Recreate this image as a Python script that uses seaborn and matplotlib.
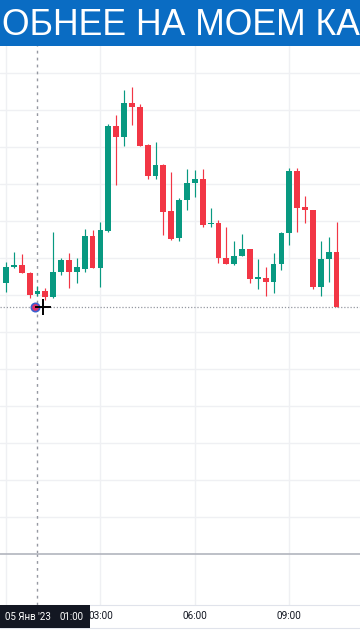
import matplotlib
matplotlib.use("Agg")
import matplotlib.pyplot as plt
from matplotlib.patches import Rectangle
from matplotlib.lines import Line2D
import seaborn as sns
import pandas as pd
import numpy as np

# ---------------- data (15-minute candles, 05 Jan '23) ----------------
opens  = [16813.2, 16817.6, 16818.1, 16815.9, 16810.3, 16811.1, 16809.5, 16816.2, 16819.5, 16816.2,
          16817.0, 16825.9, 16817.3, 16827.3, 16855.7, 16852.7, 16861.9, 16860.8, 16850.5, 16842.2,
          16845.1, 16832.7, 16825.4, 16835.7, 16840.3, 16841.4, 16829.1, 16829.5, 16820.0, 16818.4,
          16820.5, 16822.4, 16814.3, 16814.6, 16813.5, 16818.4, 16826.8, 16843.5, 16833.8, 16833.0,
          16812.2, 16819.7, 16821.6]
highs  = [16818.9, 16821.6, 16821.1, 16816.2, 16812.4, 16811.9, 16827.0, 16820.0, 16821.4, 16820.0,
          16827.8, 16827.6, 16829.7, 16856.2, 16858.6, 16865.4, 16866.2, 16861.6, 16850.8, 16851.4,
          16845.4, 16843.2, 16836.2, 16844.1, 16843.8, 16844.1, 16833.5, 16830.3, 16828.4, 16824.6,
          16826.5, 16822.4, 16819.7, 16817.6, 16821.4, 16827.0, 16844.3, 16844.3, 16836.8, 16833.0,
          16824.6, 16825.7, 16829.7]
lows   = [16810.8, 16817.3, 16815.9, 16809.2, 16809.7, 16808.6, 16809.2, 16815.4, 16811.9, 16813.2,
          16816.2, 16817.3, 16812.2, 16827.0, 16839.7, 16850.3, 16855.9, 16850.3, 16841.4, 16841.4,
          16826.2, 16824.9, 16824.6, 16833.0, 16836.5, 16828.4, 16828.4, 16818.6, 16818.4, 16818.1,
          16820.5, 16813.2, 16811.6, 16809.7, 16810.5, 16816.8, 16823.5, 16827.0, 16829.5, 16811.6,
          16809.7, 16813.5, 16806.8]
closes = [16817.6, 16818.1, 16815.9, 16810.0, 16811.1, 16809.5, 16816.2, 16819.5, 16816.2, 16817.6,
          16825.9, 16817.3, 16827.6, 16855.7, 16852.7, 16861.9, 16860.8, 16850.3, 16842.2, 16845.1,
          16832.4, 16825.1, 16835.7, 16840.3, 16841.4, 16828.9, 16829.5, 16820.0, 16818.4, 16820.5,
          16822.4, 16814.3, 16814.9, 16813.5, 16818.4, 16826.8, 16843.5, 16833.5, 16833.0, 16812.2,
          16819.7, 16821.6, 16806.8]

tick_positions = [12, 24, 36]
tick_labels = ["03:00", "06:00", "09:00"]
day_gridlines = [0, 12, 24, 36]
price_gridlines = [16750, 16760, 16770, 16780, 16790, 16800, 16810, 16820, 16830, 16840, 16850, 16860, 16870, 16880]

banner_text = "ОБНЕЕ НА МОЕМ КА"
tooltip_date = "05 Янв '23"
tooltip_time = "01:00"
crosshair_index = 4
marker_index = 3.7
cursor_index = 4.7

# ---------------- styling ----------------
sns.set_theme(style="white")
plt.rcParams['font.family'] = ['Roboto', 'DejaVu Sans']

GREEN = "#089981"
RED = "#F23645"
GRID = "#eff0f3"

W, H = 360, 640
fig = plt.figure(figsize=(W / 100, H / 100), dpi=100)
fig.patch.set_facecolor("white")

def fy(px):
    return 1 - px / H

# main pane: pixel rows 0..553
ax = fig.add_axes([0, fy(553), 1, 553 / H])
# lower (empty) pane: rows 553..605
ax2 = fig.add_axes([0, fy(605), 1, (605 - 553) / H])

df = pd.DataFrame({"open": opens, "high": highs, "low": lows, "close": closes})
df["idx"] = np.arange(len(df))
df["up"] = df["close"] >= df["open"]
df["color"] = np.where(df["up"], GREEN, RED)

xmin, xmax = -0.762, 44.98
for a in (ax, ax2):
    a.set_xlim(xmin, xmax)
    a.set_facecolor("white")
    for s in a.spines.values():
        s.set_visible(False)
    a.set_yticks([])
    for gx in day_gridlines:
        a.axvline(gx, color=GRID, lw=1.0, zorder=0)
    a.axvline(crosshair_index, color="#9598a1", lw=1.0, ls=(0, (2, 3)), zorder=1)

ax.set_ylim(16740.3, 16889.7)
for gy in price_gridlines:
    ax.axhline(gy, color=GRID, lw=1.0, zorder=0)
ax.set_xticks([])

# wicks
ax.vlines(df["idx"], df["low"], df["high"], colors=df["color"], lw=0.85, zorder=2)
# bodies
body_bottom = np.minimum(df["open"], df["close"])
body_height = np.maximum(np.abs(df["close"] - df["open"]), 0.35)
ax.bar(df["idx"], body_height, bottom=body_bottom, width=0.74, color=df["color"],
       edgecolor=df["color"], linewidth=0, zorder=3)

# current price dotted line
ax.axhline(closes[-1], color="#9598a1", lw=0.9, ls=(0, (1, 1.5)), zorder=1)
# point marker & cursor
ax.plot([marker_index], [closes[-1]], marker="o", ms=6, mfc="#e0306a", mec="#3a5fd0", mew=1.2, zorder=5)
ax.plot([cursor_index], [closes[-1]], marker="+", ms=12, color="black", mew=1.4, zorder=6)

# pane separators
fig.add_artist(Line2D([0, 1], [fy(553.5), fy(553.5)], color="#b2b5be", lw=1.2))
fig.add_artist(Line2D([0, 1], [fy(605), fy(605)], color="#e0e3eb", lw=0.8))
fig.add_artist(Line2D([0, 1], [fy(628), fy(628)], color="#e0e3eb", lw=0.8))

ax2.set_ylim(0, 1)
ax2.set_xticks(tick_positions)
ax2.set_xticklabels(tick_labels, fontsize=7.2, color="#131722")
ax2.tick_params(axis="x", length=0, pad=4.5)

# tooltip box
fig.add_artist(Rectangle((0, fy(628)), 90 / W, 23 / H, transform=fig.transFigure,
                         facecolor="#131722", edgecolor="none", zorder=10))
fig.text(5 / W, fy(616.5), tooltip_date, color="white", fontsize=7, va="center", ha="left", zorder=11)
fig.text(60 / W, fy(616.5), tooltip_time, color="white", fontsize=7, va="center", ha="left", zorder=11)

# banner
fig.add_artist(Rectangle((0, fy(46)), 1, 46 / H, transform=fig.transFigure,
                         facecolor="#0a6cc3", edgecolor="none", zorder=10))
fig.text(2 / W, fy(35), banner_text, color="white", fontsize=25.7, va="baseline", ha="left",
         family=["Liberation Sans", "DejaVu Sans"], zorder=11)

fig.savefig("out.png", dpi=100, facecolor="white")
